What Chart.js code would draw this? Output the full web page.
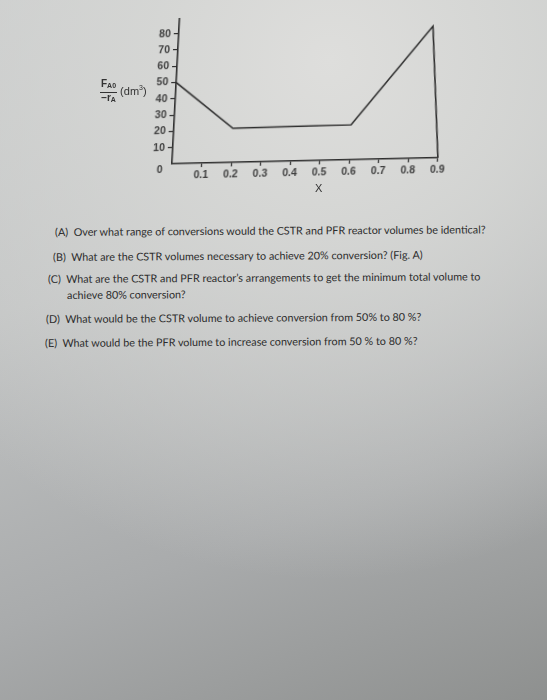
<!DOCTYPE html>
<html lang="en">
<head>
  <meta charset="UTF-8" />
  <title>Levenspiel plot</title>
  <script src="https://cdn.jsdelivr.net/npm/chart.js"></script>
  <style>
    html, body { margin: 0; padding: 0; }
    body {
      width: 547px; height: 700px; position: relative; overflow: hidden;
      background:
        radial-gradient(ellipse 520px 520px at 330px 60px, rgba(222,222,220,1) 0%, rgba(214,215,213,0.9) 35%, rgba(200,202,201,0) 100%),
        linear-gradient(160deg, #c9cbcb 0%, #c1c3c3 35%, #a9abac 70%, #8e908f 100%);
      font-family: "Liberation Sans", Arial, sans-serif;
    }
    /* the photo is slightly sheared, so the plot is too */
    #chartBox {
      position: absolute; left: 0; top: 0; width: 547px; height: 200px;
      transform-origin: 172px 164px; transform: skew(-3deg, -1.3deg);
    }
    .ylab { position: absolute; left: 100px; top: 79px; color: #333; font-size: 11px; white-space: nowrap; }
    .frac { display: inline-block; vertical-align: middle; text-align: center; font-size: 10px; line-height: 10px; font-weight: bold; }
    .frac .num { border-bottom: 1px solid #333; padding: 0 1px 1px; }
    .frac sub { font-size: 7px; vertical-align: -1px; }
    .xlab { position: absolute; left: 315px; top: 182px; color: #333; font-size: 11px; }
    .q {
      position: absolute; white-space: nowrap; color: #2c2c2c;
      font-family: Lato, "Open Sans", sans-serif; font-size: 10.8px;
      transform-origin: 0 50%; transform: rotate(-0.35deg);
    }
  </style>
</head>
<body>
<div id="chartBox"><canvas id="levChart"></canvas></div>

<div class="ylab"><span class="frac"><div class="num">F<sub>A0</sub></div><div>−r<sub>A</sub></div></span> (dm<sup style="font-size:7px">3</sup>)</div>
<div class="xlab">X</div>

<div class="q" style="left:55px; top:225px;">(A)&nbsp; Over what range of conversions would the CSTR and PFR reactor volumes be identical?</div>
<div class="q" style="left:53px; top:250px;">(B)&nbsp; What are the CSTR volumes necessary to achieve 20% conversion? (Fig. A)</div>
<div class="q" style="left:48px; top:272px;">(C)&nbsp; What are the CSTR and PFR reactor’s arrangements to get the minimum total volume to</div>
<div class="q" style="left:67px; top:288px;">achieve 80% conversion?</div>
<div class="q" style="left:46px; top:312px;">(D)&nbsp; What would be the CSTR volume to achieve conversion from 50% to 80 %?</div>
<div class="q" style="left:45px; top:336px;">(E)&nbsp; What would be the PFR volume to increase conversion from 50 % to 80 %?</div>

<script>
// values
const conversion = [0, 0.2, 0.6, 0.86, 0.9];
const levenspiel = [50, 21, 21.5, 81, 0];
const xTicks = [0.1, 0.2, 0.3, 0.4, 0.5, 0.6, 0.7, 0.8, 0.9];
const yTicks = [10, 20, 30, 40, 50, 60, 70, 80];

const ink = '#2e2e2e';
const tickFont = { family: '"Liberation Sans", Arial, sans-serif', size: 10.5, weight: 'bold' };

// the lone "0" sits below-left of the origin in the figure
const originZero = {
  id: 'originZero',
  afterDraw(chart) {
    const { ctx, scales } = chart;
    const x0 = scales.x.getPixelForValue(0);
    const y0 = scales.y.getPixelForValue(0);
    ctx.save();
    ctx.font = 'bold 10.5px "Liberation Sans", Arial, sans-serif';
    ctx.fillStyle = '#404040';
    ctx.textAlign = 'center';
    ctx.textBaseline = 'middle';
    ctx.fillText('0', x0 - 12, y0 + 6);
    ctx.restore();
  }
};

new Chart(document.getElementById('levChart'), {
  type: 'scatter',
  data: {
    datasets: [{
      data: conversion.map((x, i) => ({ x: x, y: levenspiel[i] })),
      showLine: true,
      borderColor: ink,
      borderWidth: 1.6,
      pointRadius: 0,
      tension: 0,
      clip: false
    }]
  },
  options: {
    responsive: true,
    maintainAspectRatio: false,
    animation: false,
    layout: { padding: { top: 19, right: 109, left: 0, bottom: 0 } },
    plugins: { legend: { display: false }, tooltip: { enabled: false } },
    scales: {
      x: {
        type: 'linear', min: 0, max: 0.9,
        afterBuildTicks: axis => { axis.ticks = xTicks.map(v => ({ value: v })); },
        afterFit: axis => { axis.height = 36; },
        ticks: {
          autoSkip: false, maxRotation: 0, padding: 2,
          color: '#404040', font: tickFont,
          callback: v => v.toFixed(1)
        },
        grid: { drawOnChartArea: false, tickLength: 4, color: ink, lineWidth: 1.2 },
        border: { color: ink, width: 1.6 }
      },
      y: {
        type: 'linear', min: 0, max: 89,
        afterBuildTicks: axis => { axis.ticks = yTicks.map(v => ({ value: v })); },
        afterFit: axis => { axis.width = 172; },
        ticks: { padding: 3, color: '#404040', font: tickFont },
        grid: { drawOnChartArea: false, tickLength: 5, color: ink, lineWidth: 1.2 },
        border: { color: ink, width: 1.6 }
      }
    }
  },
  plugins: [originZero]
});
</script>
</body>
</html>
